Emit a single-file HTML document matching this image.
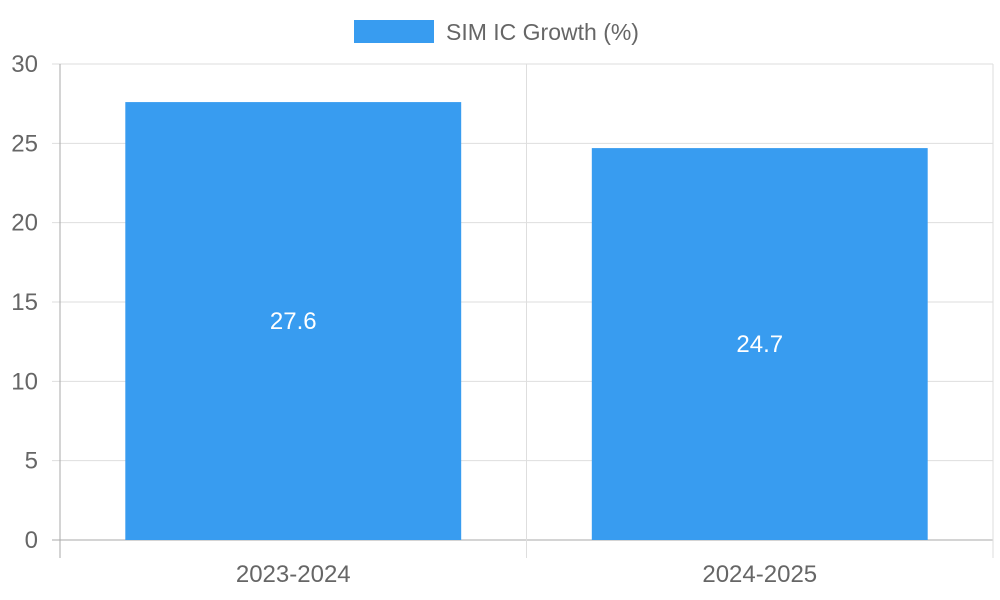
<!DOCTYPE html>
<html><head><meta charset="utf-8">
<style>
html,body{margin:0;padding:0;background:#fff;}
svg{display:block;font-family:"Liberation Sans",Arial,sans-serif;}
</style></head>
<body>
<svg id="chart" width="1000" height="600"></svg>
<script>
const categories = ["2023-2024", "2024-2025"];
const seriesValues = [27.6, 24.7];
const yTicks = [0, 5, 10, 15, 20, 25, 30];
const seriesLabel = "SIM IC Growth (%)";

const NS = "http://www.w3.org/2000/svg";
const svgEl = document.getElementById("chart");
const plotLeft = 60, plotRight = 993, plotTop = 64, plotBottom = 540;
const yMax = 30;
const yScale = v => plotBottom - (v / yMax) * (plotBottom - plotTop);
const catW = (plotRight - plotLeft) / categories.length;
const xCenter = i => plotLeft + catW * (i + 0.5);
const barW = catW * 0.72;

function mk(tag, attrs, text) {
  const e = document.createElementNS(NS, tag);
  for (const k in attrs) e.setAttribute(k, attrs[k]);
  if (text !== undefined) e.textContent = text;
  svgEl.appendChild(e);
  return e;
}

yTicks.forEach(t => {
  const y = yScale(t);
  const g = mk("line", {x1: plotLeft - 8, x2: plotRight, y1: y, y2: y, stroke: t === 0 ? "#aaa" : "#dedede", "stroke-width": 1});
  
  
  const l = mk("text", {x: 38, y: y + 8, "text-anchor": "end", "font-size": 24, fill: "#666"}, String(t));
  
  
});
for (let i = 0; i <= categories.length; i++) {
  const x = plotLeft + catW * i;
  const v = mk("line", {x1: x, x2: x, y1: plotTop, y2: plotBottom + 18, stroke: i === 0 ? "#aaa" : "#dedede", "stroke-width": 1});
  
  
}
categories.forEach((c, i) => {
  const v = seriesValues[i];
  const y = yScale(v);
  const b = mk("rect", {x: xCenter(i) - barW / 2, y: y, width: barW, height: plotBottom - y, fill: "#389cf0"});
  
  
  const t = mk("text", {x: xCenter(i), y: (y + plotBottom) / 2 + 8, "text-anchor": "middle", "font-size": 24, fill: "#fff"}, String(v));
  
  
  const xl = mk("text", {x: xCenter(i), y: 582, "text-anchor": "middle", "font-size": 24, fill: "#666"}, c);
  
  
});
const lb = mk("rect", {x: 354, y: 20, width: 80, height: 23, fill: "#389cf0"});


const lt = mk("text", {x: 446, y: 40, "font-size": 23, fill: "#666"}, seriesLabel);


</script>
</body></html>
